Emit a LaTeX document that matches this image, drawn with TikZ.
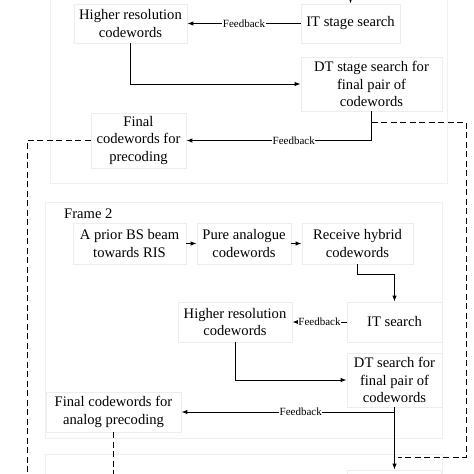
\documentclass[tikz,border=0pt]{standalone}
\usepackage{fontspec}
\setmainfont{Liberation Serif}
\usetikzlibrary{arrows.meta}
\begin{document}
\begin{tikzpicture}[x=1pt,y=-1pt,
  box/.style={draw=black!7, line width=0.8pt, align=center, inner sep=0pt, font=\fontsize{14.6}{17.5}\selectfont},
  frm/.style={draw=black!6, line width=0.8pt},
  conn/.style={line width=1pt, -{Latex[length=6pt,width=4.5pt]}},
  dashline/.style={line width=1pt, dash pattern=on 6pt off 3.5pt},
  fb/.style={font=\fontsize{11}{13}\selectfont, fill=white, inner sep=0.5pt}
]
\useasboundingbox (0,0) rectangle (474,474);
\clip (0,0) rectangle (474,474);
\fill[white] (0,0) rectangle (474,474);

% frames
\draw[frm] (50,-20) rectangle (447,183);
\draw[frm] (45,202) rectangle (442,438);
\draw[frm] (45,454) rectangle (442,520);
\node[anchor=west, inner sep=0pt, font=\fontsize{14.6}{17.5}\selectfont] (fr2) at (64,214) {Frame 2};

% frame 1 boxes
\node[box, minimum width=113pt, minimum height=39pt] (h1) at (130.5,23.5) {Higher resolution\\codewords};
\node[box, minimum width=99pt, minimum height=39pt] (it1) at (350.5,23.5) {IT stage search};
\node[box, minimum width=141pt, minimum height=54pt] (dt1) at (371.5,84) {DT stage search for\\final pair of\\codewords};
\node[box, minimum width=95pt, minimum height=55pt] (f1) at (138.5,140.5) {Final\\codewords for\\precoding};
\coordinate (top1) at (350.5,-15);

% frame 2 boxes
\node[box, minimum width=113pt, minimum height=41pt] (a2) at (129.5,243.5) {A prior BS beam\\towards RIS};
\node[box, minimum width=94pt, minimum height=41pt] (p2) at (244,243.5) {Pure analogue\\codewords};
\node[box, minimum width=111pt, minimum height=41pt] (r2) at (357.5,243.5) {Receive hybrid\\codewords};
\node[box, minimum width=95pt, minimum height=40pt] (it2) at (394.5,322) {IT search};
\node[box, minimum width=114pt, minimum height=40pt] (h2) at (235,322) {Higher resolution\\codewords};
\node[box, minimum width=95pt, minimum height=54pt] (dt2) at (394.5,380) {DT search for\\final pair of\\codewords};
\node[box, minimum width=135pt, minimum height=40pt] (f2) at (113.5,412) {Final codewords for\\analog precoding};
\node[box, minimum width=94pt, minimum height=40pt] (b3) at (394.5,490) {};

% connectors frame 1
\draw[conn] (top1) -- (it1.north);
\draw[conn] (it1.west) -- node[fb] {Feedback} (h1.east);
\draw[conn] (h1.south) |- (dt1.west);
\draw[conn] (dt1.south) |- node[fb, pos=0.71] {Feedback} (f1.east);

% dashed returns
\coordinate (dA) at (371.5,122);
\coordinate (dB) at (466,122);
\coordinate (dC) at (466,457);
\coordinate (dD) at (398,457);
\draw[dashline] (dA) -- (dB) -- (dC) -- (dD);
\coordinate (lB) at (27,490);
\draw[dashline] (f1.west) -| (lB);
\coordinate (mB) at (113.5,490);
\draw[dashline] (f2.south) -- (mB);

% connectors frame 2
\draw[conn] (a2.east) -- (p2.west);
\draw[conn] (p2.east) -- (r2.west);
\coordinate (rk) at (357.5,274);
\draw[conn] (r2.south) -- (rk) -| (it2.north);
\draw[conn] (it2.west) -- node[fb] {Feedback} (h2.east);
\draw[conn] (h2.south) |- (dt2.west);
\draw[conn] (dt2.south) |- node[fb, pos=0.72] {Feedback} (f2.east);
\draw[conn] (dt2.south) -- (b3.north);
\end{tikzpicture}
\end{document}
